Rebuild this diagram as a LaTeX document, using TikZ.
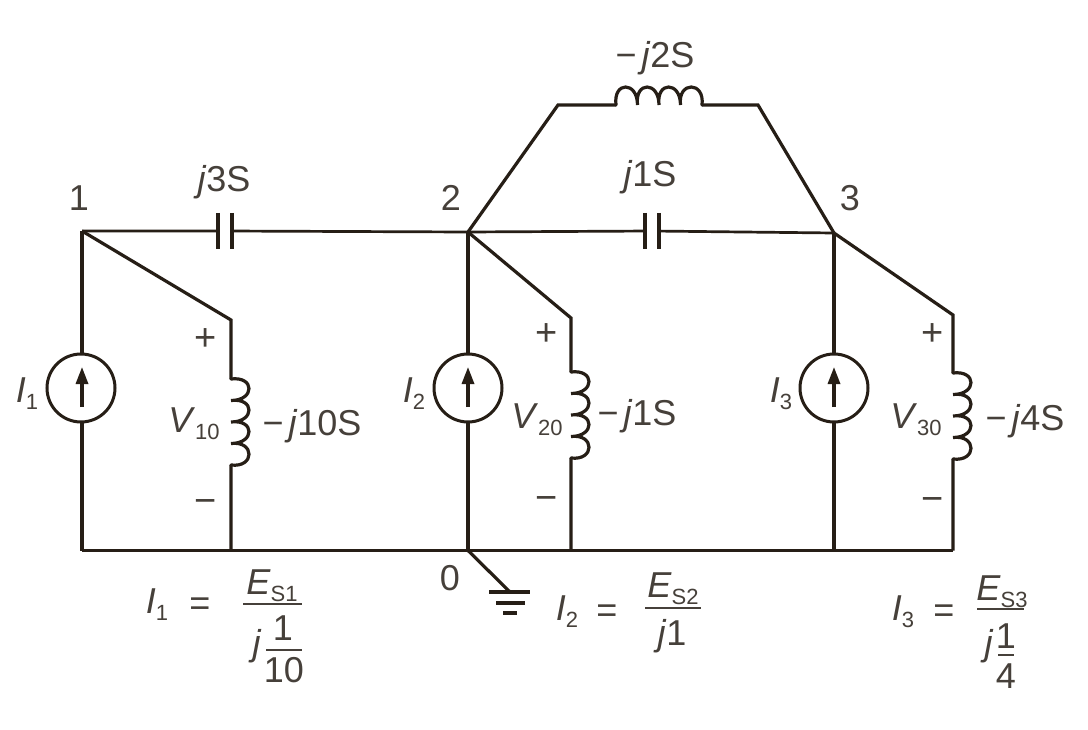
\documentclass[tikz,border=0pt]{standalone}
\usepackage{fontspec}
\setmainfont{Liberation Sans}
\usetikzlibrary{arrows.meta}
\definecolor{ink}{RGB}{38,30,22}
\definecolor{txt}{RGB}{70,64,58}
\newcommand{\lowsub}[1]{\raisebox{-7pt}{\fontsize{22}{22}\selectfont #1}}
\newcommand{\mj}{−\kern5pt\textit{j}}
\tikzset{
  wire/.style={draw=ink,line width=3.2pt,line join=miter},
  lean wire/.style={draw=ink,line width=2.7pt},
  lab/.style={inner sep=0pt,anchor=base,text=txt,font=\fontsize{36}{38}\selectfont},
  sign/.style={inner sep=0pt,text=txt,font=\fontsize{38}{40}\selectfont},
  src/.style={circle,draw=ink,line width=3pt,minimum size=68pt,inner sep=0pt,fill=white},
  fbar/.style={draw=txt,line width=2pt},
  vcoil/.pic={
    \draw[wire,line cap=round] (0,0)
      .. controls (24,-3) and (24,21.5) .. (0,21.5)
      .. controls (24,18.5) and (24,43) .. (0,43)
      .. controls (24,40) and (24,64.5) .. (0,64.5)
      .. controls (24,61.5) and (24,89) .. (0,86);
  },
  capv/.pic={
    \draw[wire,line width=4.5pt] (-7,-18) -- (-7,18);
    \draw[wire,line width=4.5pt] (7,-18) -- (7,18);
  }
}
\begin{document}
\begin{tikzpicture}[x=1pt,y=-1pt]
\useasboundingbox[fill=white] (0,0) rectangle (1088,730);
% named junctions
\coordinate (n1) at (82,231);
\coordinate (n2) at (468,232);
\coordinate (n3) at (834,233);
\coordinate (b1) at (82,550.5);
\coordinate (bL1) at (231,550.5);
\coordinate (b2) at (468,550.5);
\coordinate (bL2) at (571,550.5);
\coordinate (b3) at (834,550.5);
\coordinate (bL3) at (953,550.5);
\coordinate (k1) at (231,320);
\coordinate (k2) at (571,318);
\coordinate (k3) at (953,315);
\coordinate (t1) at (231,379);
\coordinate (t1b) at (231,465);
\coordinate (t2) at (571,372);
\coordinate (t2b) at (571,458);
\coordinate (t3) at (953,373);
\coordinate (t3b) at (953,459);
\coordinate (c1m) at (225,231);
\coordinate (c2m) at (652,231);
\coordinate (tl) at (558,105);
\coordinate (tr) at (758,105);
\coordinate (hl) at (616,105);
\coordinate (hr) at (702,105);
\coordinate (g0) at (510,592);
\coordinate (gl1) at (489,592);\coordinate (gr1) at (530,592);
\coordinate (gl2) at (496,603);\coordinate (gr2) at (525,603);
\coordinate (gl3) at (503,613);\coordinate (gr3) at (517,613);
% wires
\draw[lean wire] (n1) -- (c1m) -- (n2) -- (c2m) -- (n3);
\fill[white] (218,225) rectangle (232,237);
\fill[white] (645,225) rectangle (659,237);
\draw[wire] (b1) -- (bL1) -- (b2) -- (bL2) -- (b3) -- (bL3);
\draw[wire] (n1) -- (k1) -- (t1) (t1b) -- (bL1);
\draw[wire] (n2) -- (k2) -- (t2) (t2b) -- (bL2);
\draw[wire] (n3) -- (k3) -- (t3) (t3b) -- (bL3);
\draw[wire] (n2) -- (tl) -- (hl) (hr) -- (tr) -- (n3);
\draw[wire] (n1) -- (b1) (n2) -- (b2) (n3) -- (b3);
% sources
\node[src] (s1) at (81,388) {};
\node[src] (s2) at (468,388) {};
\node[src] (s3) at (834,388) {};
\coordinate (a1t) at (82,367);\coordinate (a1b) at (82,407);
\coordinate (a2t) at (468,367);\coordinate (a2b) at (468,407);
\coordinate (a3t) at (834,367);\coordinate (a3b) at (834,407);
\foreach \i in {1,2,3}
  \draw[wire,-{Triangle[length=17pt,width=12pt]}] (a\i b) -- (a\i t);
% elements
\pic at (t1) {vcoil};
\pic at (t2) {vcoil};
\pic at (t3) {vcoil};
\pic[rotate=90] at (hl) {vcoil};
\pic at (c1m) {capv};
\pic at (c2m) {capv};
% ground
\draw[wire] (b2) -- (g0);
\draw[wire] (gl1) -- (gr1);
\draw[wire,line width=4pt] (gl2) -- (gr2);
\draw[wire,line width=4pt] (gl3) -- (gr3);
% labels
\node[lab] (l1) at (79,211) {1};
\node[lab] (l2) at (451,211) {2};
\node[lab] (l3) at (850,211) {3};
\node[lab] (l0) at (450,590) {0};
\node[lab] (c1) at (224,192) {\textit{j}3S};
\node[lab] (c2) at (650,187) {\textit{j}1S};
\node[lab] (c3) at (655,68) {\mj2S};
\node[lab] (i1) at (27,402) {\textit{I}\lowsub{1}};
\node[lab] (i2) at (414,402) {\textit{I}\lowsub{2}};
\node[lab] (i3) at (781,402) {\textit{I}\lowsub{3}};
\node[lab] (v1) at (194,432) {\textit{V}\lowsub{10}};
\node[lab] (v2) at (537,428) {\textit{V}\lowsub{20}};
\node[lab] (v3) at (916,428) {\textit{V}\lowsub{30}};
\node[lab] (x1) at (312,435) {\mj10S};
\node[lab] (x2) at (637,425) {\mj1S};
\node[lab] (x3) at (1025,430) {\mj4S};
\node[sign] (p1) at (206,340) {+};
\node[sign] (p2) at (547,335) {+};
\node[sign] (p3) at (933,335) {+};
\node[sign] (m1) at (206,507) {−};
\node[sign] (m2) at (547,504) {−};
\node[sign] (m3) at (933,505) {−};
% equations
\node[lab] (e1) at (157,613) {\textit{I}\lowsub{1}};
\node[lab] (q1) at (200,615) {=};
\node[lab] (f1) at (272,594) {\textit{E}\lowsub{S1}};
\coordinate (f1a) at (243,604);\coordinate (f1b) at (302,604);
\draw[fbar] (f1a) -- (f1b);
\node[lab] (j1) at (257,655) {\textit{j}};
\node[lab] (u1) at (283,640) {1};
\coordinate (h1a) at (266,650);\coordinate (h1b) at (302,650);
\draw[fbar] (h1a) -- (h1b);
\node[lab] (d1) at (284,682) {10};
\node[lab] (e2) at (567,620) {\textit{I}\lowsub{2}};
\node[lab] (q2) at (607,622) {=};
\node[lab] (f2) at (673,597) {\textit{E}\lowsub{S2}};
\coordinate (f2a) at (645,607.5);\coordinate (f2b) at (701,607.5);
\draw[fbar] (f2a) -- (f2b);
\node[lab] (j2) at (672,645) {\textit{j}1};
\node[lab] (e3) at (903,620) {\textit{I}\lowsub{3}};
\node[lab] (q3) at (944,622) {=};
\node[lab] (f3) at (1002,600) {\textit{E}\lowsub{S3}};
\coordinate (f3a) at (977,609);\coordinate (f3b) at (1024,609);
\draw[fbar] (f3a) -- (f3b);
\node[lab] (j3) at (989,655) {\textit{j}};
\node[lab] (u3) at (1006,648) {1};
\coordinate (h3a) at (998,655);\coordinate (h3b) at (1014,655);
\draw[fbar] (h3a) -- (h3b);
\node[lab] (d3) at (1006,688) {4};
\end{tikzpicture}
\end{document}
